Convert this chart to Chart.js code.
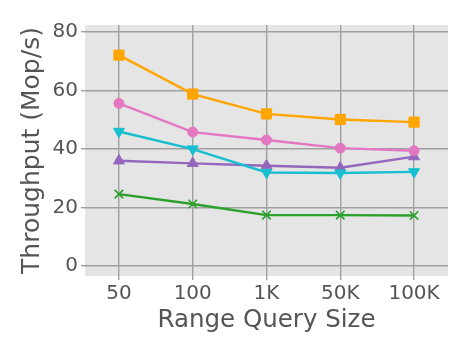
<!DOCTYPE html>
<html>
<head>
<meta charset="utf-8">
<script src="https://cdn.jsdelivr.net/npm/chart.js@4/dist/chart.umd.min.js"></script>
<style>
html,body{margin:0;padding:0;background:#fff;}
#wrap{width:474px;height:355px;}
</style>
</head>
<body>
<div id="wrap"><canvas id="c" width="474" height="355"></canvas></div>
<script>
const categories = ["50", "100", "1K", "50K", "100K"];
const yTicks = [0, 20, 40, 60, 80];
const seriesOrange = [72.1, 58.8, 52.0, 50.1, 49.2];
const seriesPink = [55.6, 45.8, 43.1, 40.3, 39.4];
const seriesCyan = [46.0, 40.0, 32.0, 31.8, 32.2];
const seriesPurple = [36.0, 35.1, 34.3, 33.6, 37.4];
const seriesGreen = [24.6, 21.2, 17.4, 17.4, 17.3];

function pts(arr){ return arr.map((v,i)=>({x:i,y:v})); }

const bgPlugin = {
  id:'bg',
  beforeDraw(chart){
    const {ctx, chartArea:a} = chart;
    ctx.save();
    ctx.fillStyle = '#e5e5e5';
    ctx.fillRect(a.left, a.top, a.right-a.left, a.bottom-a.top);
    ctx.restore();
  }
};

function ds(label, data, color, style, radius, rot, order){
  return {
    label, data: pts(data), borderColor: color, backgroundColor: color,
    pointStyle: style, pointRadius: radius, pointHoverRadius: radius,
    pointRotation: rot, borderWidth: 2.4, pointBorderWidth: style==='crossRot'?1.6:1,
    pointBorderColor: color, tension: 0, order
  };
}

new Chart(document.getElementById('c'), {
  type: 'line',
  data: {
    datasets: [
      ds('orange', seriesOrange, '#ffa500', 'rect', 7.2, 0, 1),
      ds('pink', seriesPink, '#e377c2', 'circle', 5, 0, 2),
      ds('cyan', seriesCyan, '#17becf', 'triangle', 6.3, 180, 3),
      ds('purple', seriesPurple, '#9467bd', 'triangle', 6.3, 0, 4),
      ds('green', seriesGreen, '#2ca02c', 'crossRot', 6, 0, 5)
    ]
  },
  options: {
    responsive: false,
    animation: false,
    devicePixelRatio: 1,
    layout: { padding: { left: 0, right: 26, top: 25, bottom: 0 } },
    plugins: { legend: { display: false }, tooltip: { enabled: false } },
    scales: {
      x: {
        type: 'linear', min: -0.46, max: 4.46,
        afterBuildTicks: s => { s.ticks = categories.map((c,i)=>({value:i})); },
        afterFit: s => { s.height = 79; },
        ticks: { callback: v => categories[v], color: '#555555', font: { family: 'DejaVu Sans', size: 20 }, padding: 2, maxRotation: 0, autoSkip: false },
        grid: { color: '#a0a0a0', lineWidth: 1.4, tickLength: 4, drawTicks: true },
        border: { display: false },
        title: { display: true, text: 'Range Query Size', color: '#555555', font: { family: 'DejaVu Sans', size: 24.5 }, padding: { top: 0, bottom: 20 } }
      },
      y: {
        type: 'linear', min: -3.4, max: 82.4,
        afterBuildTicks: s => { s.ticks = yTicks.map(v=>({value:v})); },
        afterFit: s => { s.width = 85; },
        ticks: { color: '#555555', font: { family: 'DejaVu Sans', size: 20 }, padding: 3 },
        grid: { color: '#a0a0a0', lineWidth: 1.4, tickLength: 4, drawTicks: true },
        border: { display: false },
        title: { display: true, text: 'Throughput (Mop/s)', color: '#555555', font: { family: 'DejaVu Sans', size: 25 }, padding: { top: 17, bottom: 0 } }
      }
    }
  },
  plugins: [bgPlugin]
});
</script>
</body>
</html>
